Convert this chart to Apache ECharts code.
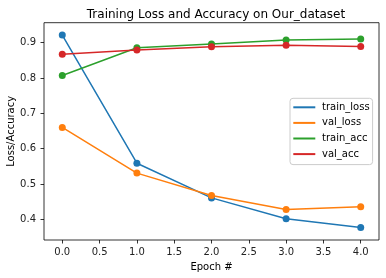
<!DOCTYPE html>
<html>
<head>
<meta charset="utf-8">
<script src="https://cdn.jsdelivr.net/npm/echarts@6/dist/echarts.min.js"></script>
<style>
html,body{margin:0;padding:0;background:#fff;}
#chart{width:386px;height:278px;}
</style>
</head>
<body>
<div id="chart"></div>
<script>
var epochs = [0, 1, 2, 3, 4];
var trainLoss = [0.921, 0.559, 0.461, 0.402, 0.377];
var valLoss = [0.660, 0.531, 0.468, 0.428, 0.436];
var trainAcc = [0.807, 0.885, 0.896, 0.907, 0.910];
var valAcc = [0.867, 0.879, 0.888, 0.892, 0.889];
var xTicks = [0, 0.5, 1, 1.5, 2, 2.5, 3, 3.5, 4];
var yTicks = [0.4, 0.5, 0.6, 0.7, 0.8, 0.9];
var seriesNames = ['train_loss', 'val_loss', 'train_acc', 'val_acc'];
var colors = ['#1f77b4', '#ff7f0e', '#2ca02c', '#d62728'];

function pairs(arr) { return epochs.map(function (e, i) { return [e, arr[i]]; }); }
var allData = [trainLoss, valLoss, trainAcc, valAcc];
var FONT = 'DejaVu Sans';

var chart = echarts.init(document.getElementById('chart'), null, {renderer: 'canvas'});
chart.setOption({
  animation: false,
  color: colors,
  textStyle: {fontFamily: FONT},
  title: {
    text: 'Training Loss and Accuracy on Our_dataset',
    left: 211, top: 4, textAlign: 'center',
    textStyle: {fontFamily: FONT, fontSize: 12, fontWeight: 'normal', color: '#000'}
  },
  grid: {
    left: 44, right: 7, top: 22.7, bottom: 38,
    show: true, borderColor: '#000', borderWidth: 0.8, backgroundColor: '#fff',
    containLabel: false, outerBoundsMode: 'none'
  },
  legend: {
    orient: 'vertical',
    left: 290, top: 98.3,
    padding: [3, 3, 4.5, 3.3],
    itemGap: 3.6,
    itemWidth: 22, itemHeight: 2,
    icon: 'rect',
    backgroundColor: 'rgba(255,255,255,0.8)',
    borderColor: '#cccccc', borderWidth: 1, borderRadius: 3,
    textStyle: {fontFamily: FONT, fontSize: 10, color: '#000', lineHeight: 12, padding: [0, 0, 0, 1.7]},
    data: seriesNames
  },
  xAxis: {
    type: 'value', min: -0.245, max: 4.245,
    name: 'Epoch #', nameLocation: 'middle', nameGap: 22,
    nameTextStyle: {fontFamily: FONT, fontSize: 10, color: '#000'},
    axisLine: {show: false, onZero: false},
    splitLine: {show: false},
    axisTick: {show: true, length: 3.5, customValues: xTicks, lineStyle: {color: '#000', width: 0.8}},
    axisLabel: {customValues: xTicks, margin: 7, fontFamily: FONT, fontSize: 10, color: '#222',
      formatter: function (v) { return v.toFixed(1); }}
  },
  yAxis: {
    type: 'value', min: 0.342, max: 0.956,
    name: 'Loss/Accuracy', nameLocation: 'middle', nameGap: 28, nameMoveOverlap: false,
    nameTextStyle: {fontFamily: FONT, fontSize: 10, color: '#000'},
    axisLine: {show: false, onZero: false},
    splitLine: {show: false},
    axisTick: {show: true, length: 3.5, customValues: yTicks, lineStyle: {color: '#000', width: 0.8}},
    axisLabel: {customValues: yTicks, margin: 8, fontFamily: FONT, fontSize: 10, color: '#222',
      formatter: function (v) { return v.toFixed(1); }}
  },
  series: seriesNames.map(function (n, i) {
    return {
      name: n, type: 'line', data: pairs(allData[i]),
      symbol: 'circle', symbolSize: 7, showSymbol: true,
      lineStyle: {width: 1.5, color: colors[i]},
      itemStyle: {color: colors[i]},
      emphasis: {disabled: true}
    };
  })
});
</script>
</body>
</html>
